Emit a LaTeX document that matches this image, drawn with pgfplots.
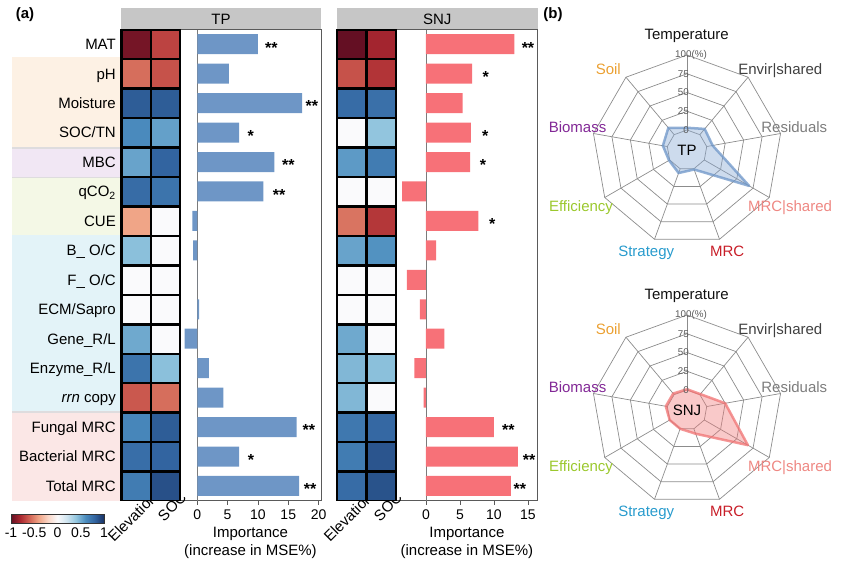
\documentclass[border=0pt]{standalone}
\usepackage{fontspec}
\setmainfont{Liberation Sans}
\usepackage{pgfplots}
\usepackage{pgfplotstable}
\pgfplotsset{compat=1.18}
\usepgfplotslibrary{polar}

\newcommand{\fs}{\fontsize{15}{18}\selectfont}
\newcommand{\fst}{\fontsize{14}{16}\selectfont}
\newcommand{\fsr}{\fontsize{9.8}{11}\selectfont}

\definecolor{bgsoil}{RGB}{253,241,228}
\definecolor{bgmbc}{RGB}{241,231,244}
\definecolor{bgeff}{RGB}{244,248,230}
\definecolor{bgstr}{RGB}{227,243,248}
\definecolor{bgmrc}{RGB}{251,231,230}
\definecolor{bgsep}{RGB}{222,220,222}
\definecolor{strip}{RGB}{198,198,198}
\definecolor{frame}{RGB}{90,90,90}
\definecolor{tpbar}{RGB}{110,150,198}
\definecolor{snjbar}{RGB}{247,113,120}
\definecolor{ringc}{RGB}{140,140,140}
\definecolor{tpline}{RGB}{110,150,200}
\definecolor{tpfill}{RGB}{130,165,210}
\definecolor{snjline}{RGB}{240,115,115}
\definecolor{snjfill}{RGB}{240,120,120}
\definecolor{cTemp}{RGB}{17,17,17}
\definecolor{cEnv}{RGB}{64,64,64}
\definecolor{cRes}{RGB}{125,125,125}
\definecolor{cMRCs}{RGB}{238,135,130}
\definecolor{cMRC}{RGB}{200,30,40}
\definecolor{cStr}{RGB}{40,155,205}
\definecolor{cEff}{RGB}{155,200,45}
\definecolor{cBio}{RGB}{130,40,150}
\definecolor{cSoil}{RGB}{235,160,50}

\tikzset{lab/.style={font=\fs, text height=10.7pt, text depth=0pt, inner sep=0pt}}

\pgfplotsset{
  colormap={rdbu}{rgb255(0cm)=(100,15,35); rgb255(1cm)=(170,40,48); rgb255(2cm)=(210,100,85);
    rgb255(3cm)=(240,165,135); rgb255(4cm)=(250,215,200); rgb255(5cm)=(250,250,252);
    rgb255(6cm)=(209,229,240); rgb255(7cm)=(146,197,222); rgb255(8cm)=(75,140,190);
    rgb255(9cm)=(50,100,160); rgb255(10cm)=(25,50,100)},
  hm/.style={scale only axis, anchor=north west, width=59pt, height=471.2pt,
    xmin=-0.5, xmax=1.5, ymin=-0.5, ymax=15.5, y dir=reverse, enlargelimits=false,
    xtick={0,1}, xticklabels={Elevation,SOC},
    major tick length=0pt,
    axis background/.style={fill=black},
    axis line style={black, line width=1.4pt}, axis on top,
    colormap name=rdbu, point meta min=-1, point meta max=1,
    x tick label style={font=\fs, xshift=22pt, yshift=9pt, rotate=45, anchor=east},
    y tick label style={font=\fs, text height=10.7pt, text depth=0pt}},
  hmcells/.style={scatter, only marks, mark=square*, mark size=14pt,
    scatter/use mapped color={draw=none, fill=mapped color}},
  impax/.style={scale only axis, anchor=north west, height=471.2pt,
    ymin=-0.5, ymax=15.5, y dir=reverse, ytick=\empty,
    xtick={0,5,10,15,20}, xticklabels={0,5,10,15,20},
    xtick pos=lower, tick align=outside, major tick length=4pt,
    axis line style={frame, line width=0.6pt},
    every tick/.style={frame, line width=0.6pt},
    x tick label style={font=\fst},
    xlabel={Importance\\(increase in MSE\%)}, xlabel style={font=\fs, align=center, yshift=7pt},
    extra x ticks={0}, extra x tick labels={},
    extra x tick style={grid=major, major grid style={frame!80, line width=0.6pt}, major tick length=0pt},
    clip=false},
  sig/.style={draw=none, mark=none, nodes near coords, point meta=explicit symbolic,
    every node near coord/.append style={font=\fontsize{16}{16}\selectfont\bfseries, anchor=center, yshift=-3.3pt}},
  rad/.style={scale only axis, anchor=center, width=190pt, height=190pt, hide axis,
    ymin=0, ymax=126.667, clip=false, no markers},
}

% importance (increase in MSE%) of each predictor, rows top to bottom
\pgfplotstableread{
y tp snj
0 10.0 13.0
1 5.2 6.8
2 17.3 5.4
3 6.9 6.6
4 12.7 6.5
5 10.9 -3.5
6 -0.8 7.7
7 -0.7 1.5
8 0 -2.8
9 0.3 -0.9
10 -2.1 2.7
11 1.9 -1.7
12 4.3 -0.35
13 16.4 10.0
14 6.9 13.5
15 16.8 12.5
}\imp

\pgfplotstableread{
x y s
12.2 0 **
18.9 2 **
8.8 3 *
15.0 4 **
13.5 5 **
18.4 13 **
8.85 14 *
18.6 15 **
}\sigTP

\pgfplotstableread{
x y s
15.0 0 **
8.8 1 *
8.7 3 *
8.4 4 *
9.75 6 *
12.1 13 **
15.15 14 **
13.8 15 **
}\sigSNJ

% correlations with elevation (x=0) and SOC (x=1)
\pgfplotstableread{
x y c
0 0 -0.95
1 0 -0.71
0 1 -0.57
1 1 -0.66
0 2 0.83
1 2 0.83
0 3 0.61
1 3 0.53
0 4 0.52
1 4 0.80
0 5 0.76
1 5 0.72
0 6 -0.40
1 6 0
0 7 0.42
1 7 0
0 8 0
1 8 0
0 9 0
1 9 0
0 10 0.50
1 10 0
0 11 0.72
1 11 0.42
0 12 -0.64
1 12 -0.57
0 13 0.63
1 13 0.83
0 14 0.75
1 14 0.80
0 15 0.68
1 15 0.88
}\heatTP

\pgfplotstableread{
x y c
0 0 -1.0
1 0 -0.82
0 1 -0.66
1 1 -0.76
0 2 0.76
1 2 0.74
0 3 0
1 3 0.40
0 4 0.55
1 4 0.68
0 5 0
1 5 0
0 6 -0.55
1 6 -0.75
0 7 0.52
1 7 0.58
0 8 0
1 8 0
0 9 0
1 9 0
0 10 0.50
1 10 0
0 11 0.45
1 11 0.42
0 12 0.45
1 12 0
0 13 0.70
1 13 0.78
0 14 0.68
1 14 0.86
0 15 0.76
1 15 0.87
}\heatSNJ

% variance partition (%), angle of each spoke
\pgfplotstableread{
ang tp snj
90 3 1
50 10 1
10 8 25
330 69 67
290 1 7
250 6 0
210 1 0
170 6 2
130 12 2
90 3 1
}\radar

\begin{document}
\fs
\begin{tikzpicture}
\useasboundingbox (0,0) rectangle (861pt,-572pt);

% row group backgrounds
\fill[bgsep] (11.7pt,-57.5pt) rectangle (120pt,-500.7pt);
\fill[bgsoil] (11.7pt,-57.5pt) rectangle (120pt,-146.8pt);
\fill[bgmbc] (11.7pt,-148.6pt) rectangle (120pt,-176.6pt);
\fill[bgeff] (11.7pt,-178.4pt) rectangle (120pt,-235.4pt);
\fill[bgstr] (11.7pt,-235.4pt) rectangle (120pt,-411.3pt);
\fill[bgmrc] (11.7pt,-413.1pt) rectangle (120pt,-500.7pt);

% strips
\fill[strip] (121pt,-8pt) rectangle (321pt,-29.5pt);
\node[lab] at (221pt,-19pt) {TP};
\fill[strip] (336.7pt,-8pt) rectangle (537.7pt,-29.5pt);
\node[lab] at (437.2pt,-19pt) {SNJ};

\node[lab, font=\fs\bfseries] at (25pt,-13pt) {(a)};
\node[lab, font=\fs\bfseries] at (553pt,-13pt) {(b)};

% TP importance
\begin{axis}[impax, at={(180pt,-29.5pt)}, width=141pt, xmin=-2.85, xmax=20.4]
\addplot[xbar, bar width=20pt, fill=tpbar, draw=none] table[x=tp, y=y] {\imp};
\addplot[sig] table[x=x, y=y, meta=s] {\sigTP};
\end{axis}

% TP heatmap
\begin{axis}[hm, at={(121pt,-29.5pt)}, ytick={0,...,15},
  yticklabels={MAT,pH,Moisture,SOC/TN,MBC,qCO\textsubscript{2},CUE,B\_ O/C,F\_ O/C,ECM/Sapro,Gene\_R/L,Enzyme\_R/L,\textit{rrn} copy,Fungal MRC,Bacterial MRC,Total MRC}]
\addplot[hmcells, point meta=\thisrow{c}] table[x=x, y=y] {\heatTP};
\end{axis}

% SNJ importance
\begin{axis}[impax, at={(396pt,-29.5pt)}, width=141.7pt, xmin=-4.41, xmax=16.43,
  xtick={0,5,10,15}, xticklabels={0,5,10,15}]
\addplot[xbar, bar width=20pt, fill=snjbar, draw=none] table[x=snj, y=y] {\imp};
\addplot[sig] table[x=x, y=y, meta=s] {\sigSNJ};
\end{axis}

% SNJ heatmap
\begin{axis}[hm, at={(336.7pt,-29.5pt)}, width=59.3pt, ytick=\empty]
\addplot[hmcells, point meta=\thisrow{c}] table[x=x, y=y] {\heatSNJ};
\end{axis}

% colour bar
\begin{axis}[at={(11pt,-514pt)}, anchor=north west, scale only axis, width=93pt, height=9pt,
  hide axis, xmin=0, xmax=1, ymin=0, ymax=1,
  colormap name=rdbu, point meta min=-1, point meta max=1,
  colorbar horizontal,
  colorbar style={at={(0,1)}, anchor=north west, scale only axis, width=93pt, height=9pt,
    xtick={-1,-0.5,0,0.5,1}, xticklabels={-1,-0.5,0,0.5,1},
    x tick label style={font=\fst}, major tick length=0pt,
    axis line style={black!80, line width=0.6pt}}]
\addplot[draw=none] coordinates {(0.5,0.5)};
\end{axis}

% radar TP
\begin{polaraxis}[rad, at={(687pt,-150pt)}]
\pgfplotsinvokeforeach{0,25,50,75,100}{
  \addplot[ringc, line width=0.7pt] table[x=ang, y expr=26.667+#1] {\radar};}
\pgfplotsinvokeforeach{90,50,10,330,290,250,210,170,130}{
  \addplot[ringc, line width=0.7pt] coordinates {(#1,26.667) (#1,126.667)};}
\addplot[fill=tpfill, fill opacity=0.4, draw=tpline, draw opacity=0.75, line width=2.5pt, line join=round]
  table[x=ang, y expr=\thisrow{tp}+26.667] {\radar};
\node[lab] at (axis cs:0,0) {TP};
\node[font=\fsr, text=frame, anchor=east, inner sep=0pt, xshift=2pt] at (axis cs:90,26.667) {0};
\node[font=\fsr, text=frame, anchor=east, inner sep=0pt, xshift=2pt] at (axis cs:90,51.667) {25};
\node[font=\fsr, text=frame, anchor=east, inner sep=0pt, xshift=2pt] at (axis cs:90,76.667) {50};
\node[font=\fsr, text=frame, anchor=east, inner sep=0pt, xshift=2pt] at (axis cs:90,101.667) {75};
\node[font=\fsr, text=frame, anchor=west, inner sep=0pt, xshift=-12pt] at (axis cs:90,126.667) {100(\%)};
\end{polaraxis}

% radar SNJ
\begin{polaraxis}[rad, at={(687pt,-410pt)}]
\pgfplotsinvokeforeach{0,25,50,75,100}{
  \addplot[ringc, line width=0.7pt] table[x=ang, y expr=26.667+#1] {\radar};}
\pgfplotsinvokeforeach{90,50,10,330,290,250,210,170,130}{
  \addplot[ringc, line width=0.7pt] coordinates {(#1,26.667) (#1,126.667)};}
\addplot[fill=snjfill, fill opacity=0.4, draw=snjline, draw opacity=0.75, line width=2.5pt, line join=round]
  table[x=ang, y expr=\thisrow{snj}+26.667] {\radar};
\node[lab] at (axis cs:0,0) {SNJ};
\node[font=\fsr, text=frame, anchor=east, inner sep=0pt, xshift=2pt] at (axis cs:90,26.667) {0};
\node[font=\fsr, text=frame, anchor=east, inner sep=0pt, xshift=2pt] at (axis cs:90,51.667) {25};
\node[font=\fsr, text=frame, anchor=east, inner sep=0pt, xshift=2pt] at (axis cs:90,76.667) {50};
\node[font=\fsr, text=frame, anchor=east, inner sep=0pt, xshift=2pt] at (axis cs:90,101.667) {75};
\node[font=\fsr, text=frame, anchor=west, inner sep=0pt, xshift=-12pt] at (axis cs:90,126.667) {100(\%)};
\end{polaraxis}

% radar category labels
\foreach \dy in {0,1} {
  \begin{scope}[yshift=-\dy*260pt]
  \node[lab, text=cTemp] at (686.7pt,-34pt) {Temperature};
  \node[lab, text=cEnv] at (780.3pt,-69pt) {Envir|shared};
  \node[lab, text=cRes] at (794.3pt,-127pt) {Residuals};
  \node[lab, text=cMRCs] at (790pt,-206.5pt) {MRC|shared};
  \node[lab, text=cMRC] at (727.2pt,-251pt) {MRC};
  \node[lab, text=cStr] at (646.2pt,-251pt) {Strategy};
  \node[lab, text=cEff] at (581pt,-206.5pt) {Efficiency};
  \node[lab, text=cBio] at (577.5pt,-127pt) {Biomass};
  \node[lab, text=cSoil] at (608.3pt,-69pt) {Soil};
  \end{scope}
}
\end{tikzpicture}
\end{document}
